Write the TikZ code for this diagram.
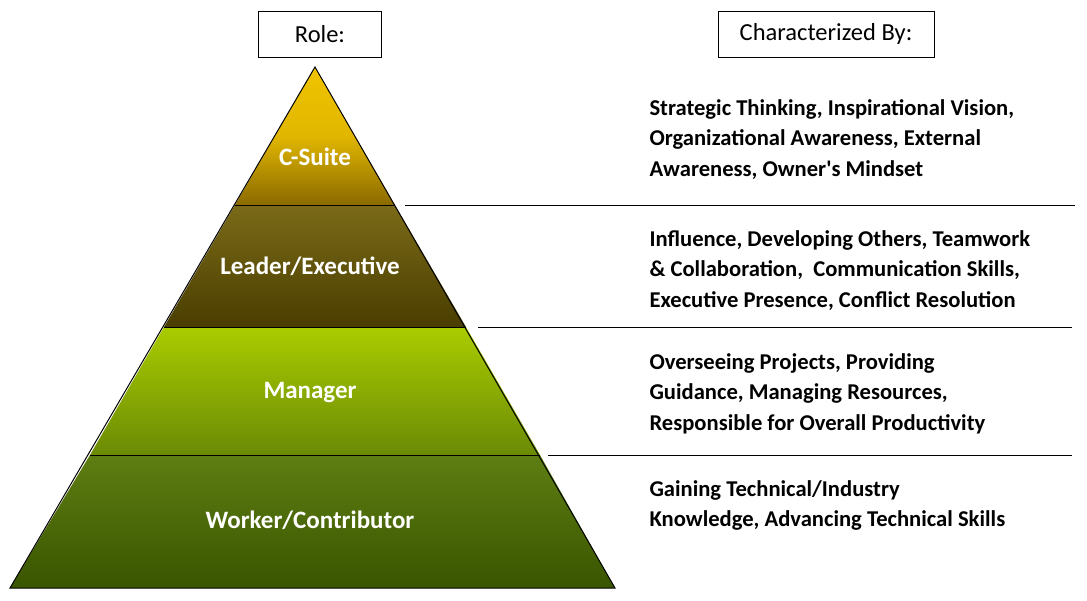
\documentclass[tikz,border=0pt]{standalone}
\usepackage{fontspec}
\setmainfont{Carlito}
\begin{document}
\begin{tikzpicture}[x=1pt,y=-1pt,
  hdr/.style={draw=black,fill=white,minimum width=#1,minimum height=46pt,font=\fontsize{24.5}{27}\selectfont},
  tier/.style={font=\bfseries\fontsize{25}{28}\selectfont,text=white},
  desc/.style={anchor=north west,align=left,font=\bfseries\fontsize{22.6}{30.5}\selectfont},
  sep/.style={line width=1pt}]
\useasboundingbox (0,0) rectangle (1087,600);
\definecolor{g1a}{HTML}{F0C400}\definecolor{g1b}{HTML}{8A6A00}
\definecolor{g2a}{HTML}{7A6A18}\definecolor{g2b}{HTML}{4A3E00}
\definecolor{g3a}{HTML}{AACC00}\definecolor{g3b}{HTML}{6A8A05}
\definecolor{g4a}{HTML}{5E7E12}\definecolor{g4b}{HTML}{3A5500}
\coordinate (apex) at (315,67);
\coordinate (l1) at (235,205);\coordinate (r1) at (395,205);
\coordinate (l2) at (164,327);\coordinate (r2) at (466,327);
\coordinate (l3) at (90,455);\coordinate (r3) at (540,455);
\coordinate (l4) at (10,588);\coordinate (r4) at (615,588);
\shade[top color=g1a,bottom color=g1b,middle color=g1a!85!g1b] (apex)--(r1)--(l1)--cycle;
\shade[top color=g2a,bottom color=g2b] (l1)--(r1)--(r2)--(l2)--cycle;
\shade[top color=g3a,bottom color=g3b] (l2)--(r2)--(r3)--(l3)--cycle;
\shade[top color=g4a,bottom color=g4b] (l3)--(r3)--(r4)--(l4)--cycle;
\draw[black,line width=1pt] (apex)--(r4)--(l4)--cycle;
\draw[black,line width=0.8pt] (l1)--(r1) (l2)--(r2) (l3)--(r3);
\node[tier] (t1) at (315,157) {C-Suite};
\node[tier] (t2) at (310,266) {Leader/Executive};
\node[tier] (t3) at (310,393) {Manager};
\node[tier] (t4) at (310,520) {Worker/Contributor};
\node[hdr=123pt] (role) at (320,34) {Role:};
\node[hdr=216pt] (char) at (826,34) {Characterized By:};
\coordinate (s1a) at (405,205);\coordinate (s1b) at (1075,205);
\coordinate (s2a) at (478,327);\coordinate (s2b) at (1072,327);
\coordinate (s3a) at (548,455);\coordinate (s3b) at (1072,455);
\draw[sep] (s1a)--(s1b) (s2a)--(s2b) (s3a)--(s3b);
\node[desc] (d1) at (646,96) {Strategic Thinking, Inspirational Vision,\\Organizational Awareness, External\\Awareness, Owner\textquotesingle s Mindset};
\node[desc] (d2) at (646,227) {Influence, Developing Others, Teamwork\\\& Collaboration,\ \ Communication Skills,\\Executive Presence, Conflict Resolution};
\node[desc] (d3) at (646,350) {Overseeing Projects, Providing\\Guidance, Managing Resources,\\Responsible for Overall Productivity};
\node[desc] (d4) at (646,477) {Gaining Technical/Industry\\Knowledge, Advancing Technical Skills};
\end{tikzpicture}
\end{document}
